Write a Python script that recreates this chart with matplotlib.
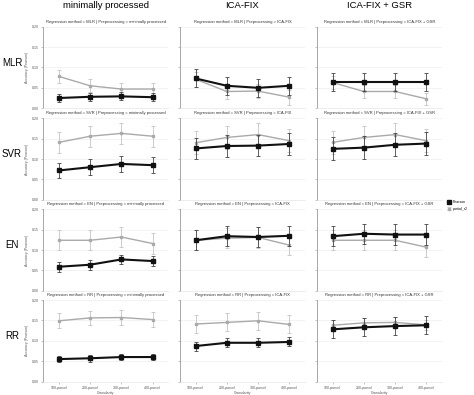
import numpy as np
import matplotlib
matplotlib.use("Agg")
import matplotlib.pyplot as plt
from matplotlib.transforms import blended_transform_factory

plt.rcParams["font.family"] = ["Liberation Sans", "DejaVu Sans"]

methods = ["MLR", "SVR", "EN", "RR"]
preprocessing = ["minimally processed", "ICA-FIX", "ICA-FIX + GSR"]
granularity = ["100-parcel", "200-parcel", "300-parcel", "400-parcel"]

# Pearson accuracy, [method][preprocessing][granularity]
pearson = [
    [[0.025, 0.028, 0.029, 0.027], [0.073, 0.055, 0.050, 0.055], [0.064, 0.064, 0.064, 0.064]],
    [[0.072, 0.080, 0.088, 0.085], [0.126, 0.132, 0.133, 0.137], [0.125, 0.128, 0.135, 0.138]],
    [[0.059, 0.064, 0.077, 0.073], [0.124, 0.134, 0.132, 0.135], [0.134, 0.140, 0.138, 0.138]],
    [[0.055, 0.057, 0.060, 0.060], [0.087, 0.095, 0.095, 0.097], [0.128, 0.133, 0.136, 0.138]],
]
pearson_err = [
    [0.010, 0.022, 0.022],
    [0.019, 0.026, 0.028],
    [0.012, 0.025, 0.025],
    [0.008, 0.011, 0.022],
]

partial = [
    [[0.078, 0.055, 0.047, 0.047], [0.071, 0.041, 0.042, 0.027], [0.063, 0.041, 0.041, 0.023]],
    [[0.141, 0.156, 0.163, 0.156], [0.140, 0.153, 0.160, 0.145], [0.141, 0.153, 0.160, 0.145]],
    [[0.124, 0.124, 0.132, 0.116], [0.124, 0.129, 0.131, 0.112], [0.124, 0.124, 0.124, 0.107]],
    [[0.149, 0.156, 0.157, 0.152], [0.141, 0.145, 0.149, 0.140], [0.138, 0.144, 0.145, 0.139]],
]
partial_err = [
    [0.016, 0.018, 0.015],
    [0.026, 0.028, 0.028],
    [0.025, 0.025, 0.025],
    [0.018, 0.022, 0.013],
]

fig = plt.figure(figsize=(4.74, 3.95), dpi=100)

W, H = 474, 395
lefts = [43.3, 180, 317]
width = 125
tops = [26.7, 118.3, 209.3, 300]
height = 81.5

x = np.arange(1, 5)
axes = []
for r, m in enumerate(methods):
    for c, p in enumerate(preprocessing):
        ax = fig.add_axes([lefts[c] / W, 1 - (tops[r] + height) / H, width / W, height / H])
        axes.append(ax)
        ax.errorbar(x, partial[r][c], yerr=partial_err[r][c], color="#aaaaaa",
                    ecolor="#c4c4c4", elinewidth=0.6, capsize=1.5, capthick=0.6,
                    lw=1.0, marker="s", ms=1.8, label="partial_r2", zorder=2)
        ax.errorbar(x, pearson[r][c], yerr=pearson_err[r][c], color="#111111",
                    ecolor="#444444", elinewidth=0.6, capsize=1.5, capthick=0.6,
                    lw=1.5, marker="s", ms=2.4, label="Pearson", zorder=3)
        ax.set_xlim(0.5, 4.5)
        ax.set_ylim(0, 0.2)
        ax.set_yticks([0, 0.05, 0.10, 0.15, 0.20])
        ax.set_xticks(x)
        for s in ["top", "right"]:
            ax.spines[s].set_visible(False)
        ax.spines["left"].set_color("#999999")
        ax.spines["left"].set_linewidth(0.6)
        ax.spines["bottom"].set_color("#e6e6e6")
        ax.spines["bottom"].set_linewidth(0.5)
        ax.grid(axis="y", color="#eeeeee", lw=0.5)
        ax.set_axisbelow(True)
        ax.tick_params(length=1.5, width=0.4, color="#999999", labelsize=2.5,
                       labelcolor="#555555", pad=1.5)
        ax.set_title(f"Regression method = {m} | Preprocessing = {p}",
                     fontsize=3, color="#333333", pad=3)
        if c == 0:
            ax.set_yticklabels(["0.00", "0.05", "0.10", "0.15", "0.20"])
            ax.set_ylabel("Accuracy (Pearson)", fontsize=2.5, color="#555555", labelpad=2)
        else:
            ax.set_yticklabels([])
        if r == 3:
            ax.set_xticklabels(granularity)
            ax.set_xlabel("Granularity", fontsize=2.5, color="#555555", labelpad=1)
        else:
            ax.set_xticklabels([])
            ax.tick_params(axis="x", length=0)
        if r == 0:
            # column header, centred over the panel
            trans = blended_transform_factory(ax.transAxes, fig.transFigure)
            ax.text(0.5, 1 - 5 / H, p, transform=trans, fontsize=6.8,
                    ha="center", va="center")
    fig.text(12 / W, 1 - (tops[r] + 36) / H, m, fontsize=7, ha="center", va="center")

handles, labels = axes[-4].get_legend_handles_labels()
fig.legend(handles[::-1], labels[::-1], loc="upper left",
           bbox_to_anchor=(445 / W, 1 - 197 / H), frameon=False, fontsize=2.5,
           handlelength=0.6, handletextpad=0.6, labelspacing=0.8)

fig.savefig("out.png", dpi=100)
